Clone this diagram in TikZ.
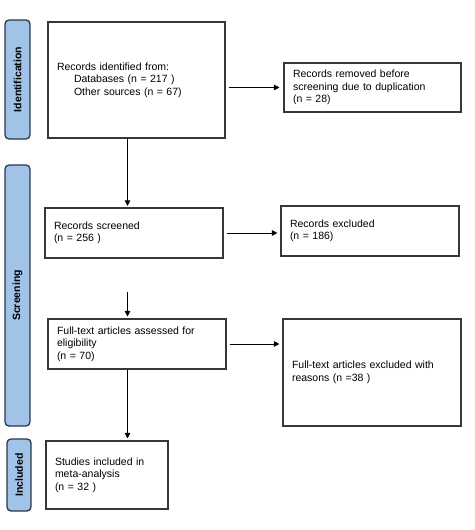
\documentclass[tikz,border=0pt]{standalone}
\usepackage{fontspec}
\setmainfont{Liberation Sans}
\usepackage{tikz}
\usetikzlibrary{arrows.meta,positioning}
\definecolor{barblue}{RGB}{160,195,231}
\definecolor{bardraw}{RGB}{45,55,72}
\definecolor{boxdraw}{RGB}{55,55,55}

\begin{document}
\begin{tikzpicture}[
  x=1pt, y=-1pt,
  font=\fontsize{10.5}{12.5}\selectfont,
  box/.style={draw=boxdraw, line width=1.1pt, fill=white, align=left, inner xsep=9pt, inner ysep=0pt},
  bar/.style={draw=bardraw, fill=barblue, line width=1.3pt, rounded corners=4pt, rotate=90, inner sep=0pt, font=\fontsize{10.5}{12}\selectfont\bfseries},
  arr/.style={-{Triangle[length=5.5pt, width=5.5pt]}, line width=0.9pt, black}
]
\useasboundingbox (0,0) rectangle (474,530);
% phase bars
\node[bar, minimum width=119, minimum height=25] (idbar) at (17.5,79.5) {Identification};
\node[bar, minimum width=261, minimum height=25] (scrbar) at (17.5,295.5) {Screening};
\node[bar, minimum width=72, minimum height=24] (incbar) at (19,475) {Included};
% boxes
\node[box, minimum width=177, minimum height=116, text width=159] (ident) at (136.5,80)
  {Records identified from:\\ \hspace*{17pt}Databases (n = 217 )\\ \hspace*{17pt}Other sources (n = 67)};
\node[box, minimum width=177, minimum height=49, text width=159] (removed) at (372.5,87.5)
  {Records removed before\\ screening due to duplication\\ (n = 28)};
\node[box, minimum width=178, minimum height=50, text width=160] (screened) at (134,233)
  {Records screened\\ (n = 256 )};
\node[box, minimum width=178, minimum height=50, text width=160] (excluded) at (370,231)
  {Records excluded\\ (n = 186)};
\node[box, minimum width=178, minimum height=50, text width=160] (fulltext) at (137,344)
  {Full-text articles assessed for\\ eligibility\\ (n = 70)};
\node[box, minimum width=178, minimum height=107, text width=160] (reasons) at (372,372.5)
  {Full-text articles excluded with\\ reasons (n =38 )};
\node[box, minimum width=122, minimum height=68, text width=104] (included) at (107,475)
  {Studies included in\\ meta-analysis\\ (n = 32 )};
% connectors
\coordinate (spine) at (127.5,0);
\coordinate (stub) at (127.5,292);
\draw[arr, shorten >=1.5pt] (spine |- ident.south) -- (spine |- screened.north);
\draw[arr, shorten >=2pt] (stub) -- (stub |- fulltext.north);
\draw[arr, shorten >=2pt] (spine |- fulltext.south) -- (spine |- included.north);
\draw[arr, shorten <=3pt, shorten >=4pt] (ident.east |- removed.west) -- (removed.west);
\draw[arr, shorten <=3pt, shorten >=3pt] (screened.east) -- (screened.east -| excluded.west);
\draw[arr, shorten <=3pt, shorten >=3pt] (fulltext.east) -- (fulltext.east -| reasons.west);
\end{tikzpicture}
\end{document}
